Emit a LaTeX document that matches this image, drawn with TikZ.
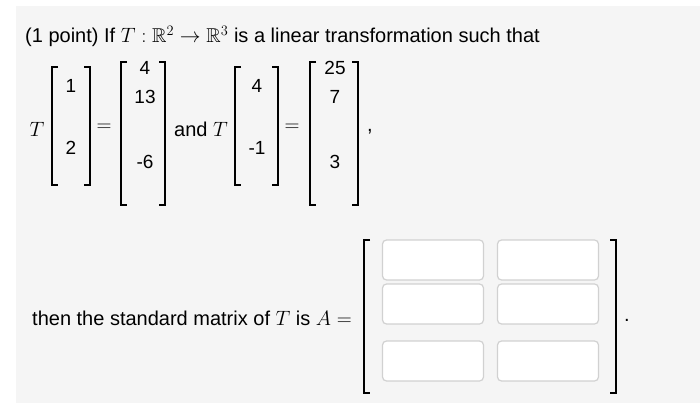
\documentclass[tikz,border=0pt]{standalone}
\usepackage{amssymb}
\usepackage{fontspec}
\setmainfont{Liberation Sans}
\begin{document}
\begin{tikzpicture}[x=1pt,y=-1pt,
  txt/.style={font=\fontsize{20}{24}\selectfont, inner sep=0pt},
  ent/.style={font=\fontsize{19}{22}\selectfont, inner sep=0pt},
  ansbox/.style={draw=black!18, line width=1.2pt, fill=white, rounded corners=4pt, minimum width=101pt, minimum height=40pt, inner sep=0pt},
  brk/.style={line width=1.4pt}]
\useasboundingbox (0,0) rectangle (700,403);
\fill[white] (0,0) rectangle (700,403);
\fill[black!4] (16,6) rectangle (700,403);
\node[txt, anchor=base west] (t1) at (25,43) {(1 point) If $T:\mathbb{R}^2\rightarrow\mathbb{R}^3$ is a linear transformation such that};
% first equation
\node[txt] (T1) at (37,129) {$T$};
\draw[brk] (58,67) -- (52,67) -- (52,185) -- (58,185);
\draw[brk] (84,67) -- (90,67) -- (90,185) -- (84,185);
\node[ent] (a1) at (71,86) {1};
\node[ent] (a2) at (71,148) {2};
\node[txt] (eq1) at (104,128) {$=$};
\draw[brk] (127,62) -- (121,62) -- (121,205) -- (127,205);
\draw[brk] (159,62) -- (165,62) -- (165,205) -- (159,205);
\node[ent] (b1) at (145,68) {4};
\node[ent] (b2) at (145,97) {13};
\node[ent] (b3) at (145,162) {-6};
\node[txt] (and) at (201,129) {and $T$};
\draw[brk] (241,67) -- (235,67) -- (235,185) -- (241,185);
\draw[brk] (272,67) -- (278,67) -- (278,185) -- (272,185);
\node[ent] (c1) at (257,86) {4};
\node[ent] (c2) at (257,148) {-1};
\node[txt] (eq2) at (292,128) {$=$};
\draw[brk] (316,62) -- (310,62) -- (310,205) -- (316,205);
\draw[brk] (352,62) -- (358,62) -- (358,205) -- (352,205);
\node[ent] (d1) at (335,68) {25};
\node[ent] (d2) at (335,97) {7};
\node[ent] (d3) at (335,162) {3};
\node[txt] (comma) at (370,132) {,};
% answer
\node[txt, anchor=base west] (t2) at (32,325) {then the standard matrix of $T$ is $A=$};
\draw[brk] (370,240) -- (364,240) -- (364,393) -- (370,393);
\draw[brk] (610,240) -- (616,240) -- (616,393) -- (610,393);
\node[ansbox] (m11) at (433,260) {};
\node[ansbox] (m12) at (548,260) {};
\node[ansbox] (m21) at (433,304) {};
\node[ansbox] (m22) at (548,304) {};
\node[ansbox] (m31) at (433,361) {};
\node[ansbox] (m32) at (548,361) {};
\node[txt] (dot) at (627,320) {.};
\end{tikzpicture}
\end{document}
